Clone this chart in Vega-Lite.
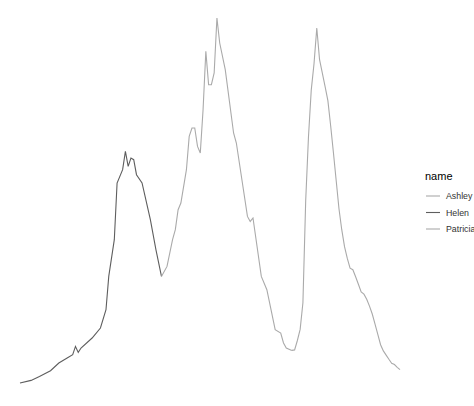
{
  "$schema": "https://vega.github.io/schema/vega-lite/v6.json",
  "description": "Baby name counts over time, Helen highlighted.",
  "autosize": {"type": "none"},
  "width": 380,
  "height": 365,
  "padding": {"left": 20, "top": 18, "right": 74, "bottom": 23},
  "background": "white",
  "data": {
    "values": [
      {"year": 1880, "name": "Helen", "n": 600},
      {"year": 1884, "name": "Helen", "n": 990},
      {"year": 1887, "name": "Helen", "n": 1590},
      {"year": 1891, "name": "Helen", "n": 2445},
      {"year": 1894, "name": "Helen", "n": 3600},
      {"year": 1897, "name": "Helen", "n": 4350},
      {"year": 1899, "name": "Helen", "n": 4845},
      {"year": 1900, "name": "Helen", "n": 6090},
      {"year": 1901, "name": "Helen", "n": 5190},
      {"year": 1902, "name": "Helen", "n": 5850},
      {"year": 1906, "name": "Helen", "n": 7350},
      {"year": 1909, "name": "Helen", "n": 8850},
      {"year": 1911, "name": "Helen", "n": 11595},
      {"year": 1912, "name": "Helen", "n": 16590},
      {"year": 1914, "name": "Helen", "n": 22095},
      {"year": 1915, "name": "Helen", "n": 30600},
      {"year": 1917, "name": "Helen", "n": 32595},
      {"year": 1918, "name": "Helen", "n": 35340},
      {"year": 1919, "name": "Helen", "n": 33090},
      {"year": 1920, "name": "Helen", "n": 34350},
      {"year": 1921, "name": "Helen", "n": 34095},
      {"year": 1922, "name": "Helen", "n": 31845},
      {"year": 1924, "name": "Helen", "n": 30600},
      {"year": 1927, "name": "Helen", "n": 25095},
      {"year": 1929, "name": "Helen", "n": 20595},
      {"year": 1931, "name": "Helen", "n": 16590},
      {"year": 1931, "name": "Patricia", "n": 16590},
      {"year": 1933, "name": "Patricia", "n": 18090},
      {"year": 1935, "name": "Patricia", "n": 22095},
      {"year": 1936, "name": "Patricia", "n": 23595},
      {"year": 1937, "name": "Patricia", "n": 26595},
      {"year": 1938, "name": "Patricia", "n": 27600},
      {"year": 1940, "name": "Patricia", "n": 32595},
      {"year": 1941, "name": "Patricia", "n": 37590},
      {"year": 1942, "name": "Patricia", "n": 38850},
      {"year": 1943, "name": "Patricia", "n": 38850},
      {"year": 1944, "name": "Patricia", "n": 36090},
      {"year": 1945, "name": "Patricia", "n": 35100},
      {"year": 1946, "name": "Patricia", "n": 41595},
      {"year": 1947, "name": "Patricia", "n": 50340},
      {"year": 1948, "name": "Patricia", "n": 45345},
      {"year": 1949, "name": "Patricia", "n": 45345},
      {"year": 1950, "name": "Patricia", "n": 47100},
      {"year": 1951, "name": "Patricia", "n": 55350},
      {"year": 1952, "name": "Patricia", "n": 51600},
      {"year": 1954, "name": "Patricia", "n": 47595},
      {"year": 1957, "name": "Patricia", "n": 38100},
      {"year": 1958, "name": "Patricia", "n": 36600},
      {"year": 1962, "name": "Patricia", "n": 25590},
      {"year": 1963, "name": "Patricia", "n": 24840},
      {"year": 1964, "name": "Patricia", "n": 25350},
      {"year": 1967, "name": "Patricia", "n": 16590},
      {"year": 1969, "name": "Patricia", "n": 14595},
      {"year": 1972, "name": "Patricia", "n": 8595},
      {"year": 1974, "name": "Patricia", "n": 8100},
      {"year": 1975, "name": "Patricia", "n": 6600},
      {"year": 1976, "name": "Patricia", "n": 5850},
      {"year": 1978, "name": "Patricia", "n": 5490},
      {"year": 1978, "name": "Ashley", "n": 5490},
      {"year": 1979, "name": "Ashley", "n": 5565},
      {"year": 1980, "name": "Ashley", "n": 6975},
      {"year": 1981, "name": "Ashley", "n": 8640},
      {"year": 1982, "name": "Ashley", "n": 12645},
      {"year": 1983, "name": "Ashley", "n": 27945},
      {"year": 1984, "name": "Ashley", "n": 37500},
      {"year": 1985, "name": "Ashley", "n": 44535},
      {"year": 1986, "name": "Ashley", "n": 48495},
      {"year": 1987, "name": "Ashley", "n": 53850},
      {"year": 1988, "name": "Ashley", "n": 49095},
      {"year": 1989, "name": "Ashley", "n": 47070},
      {"year": 1990, "name": "Ashley", "n": 45045},
      {"year": 1991, "name": "Ashley", "n": 42945},
      {"year": 1992, "name": "Ashley", "n": 39195},
      {"year": 1993, "name": "Ashley", "n": 35145},
      {"year": 1994, "name": "Ashley", "n": 30945},
      {"year": 1995, "name": "Ashley", "n": 26745},
      {"year": 1996, "name": "Ashley", "n": 23595},
      {"year": 1997, "name": "Ashley", "n": 21045},
      {"year": 1998, "name": "Ashley", "n": 19290},
      {"year": 1999, "name": "Ashley", "n": 17820},
      {"year": 2000, "name": "Ashley", "n": 17595},
      {"year": 2001, "name": "Ashley", "n": 16545},
      {"year": 2002, "name": "Ashley", "n": 15420},
      {"year": 2003, "name": "Ashley", "n": 14265},
      {"year": 2004, "name": "Ashley", "n": 13920},
      {"year": 2005, "name": "Ashley", "n": 13170},
      {"year": 2006, "name": "Ashley", "n": 12135},
      {"year": 2007, "name": "Ashley", "n": 10950},
      {"year": 2008, "name": "Ashley", "n": 9420},
      {"year": 2009, "name": "Ashley", "n": 7890},
      {"year": 2010, "name": "Ashley", "n": 6345},
      {"year": 2011, "name": "Ashley", "n": 5415},
      {"year": 2012, "name": "Ashley", "n": 4785},
      {"year": 2013, "name": "Ashley", "n": 4155},
      {"year": 2014, "name": "Ashley", "n": 3570},
      {"year": 2015, "name": "Ashley", "n": 3375},
      {"year": 2016, "name": "Ashley", "n": 2955},
      {"year": 2017, "name": "Ashley", "n": 2595}
    ]
  },
  "mark": {"type": "line", "strokeWidth": 1.1},
  "encoding": {
    "x": {
      "field": "year",
      "type": "quantitative",
      "scale": {"domain": [1880, 2017], "nice": false, "zero": false},
      "axis": null
    },
    "y": {
      "field": "n",
      "type": "quantitative",
      "scale": {"domain": [600, 55350], "nice": false, "zero": false},
      "axis": null
    },
    "color": {
      "field": "name",
      "type": "nominal",
      "scale": {
        "domain": ["Ashley", "Helen", "Patricia"],
        "range": ["#aaaaaa", "#5e5e5e", "#aaaaaa"]
      },
      "legend": {
        "title": "name",
        "orient": "none",
        "legendX": 405,
        "legendY": 153,
        "padding": 0,
        "symbolType": "stroke",
        "symbolSize": 196,
        "symbolStrokeWidth": 1.1,
        "rowPadding": 3.5,
        "titlePadding": 6,
        "labelOffset": 5,
        "titleFont": "Liberation Sans",
        "titleFontSize": 11,
        "titleFontWeight": "normal",
        "titleColor": "#000000",
        "labelFont": "Liberation Sans",
        "labelFontSize": 8.8,
        "labelColor": "#333333"
      }
    }
  },
  "config": {
    "view": {"stroke": null}
  }
}
